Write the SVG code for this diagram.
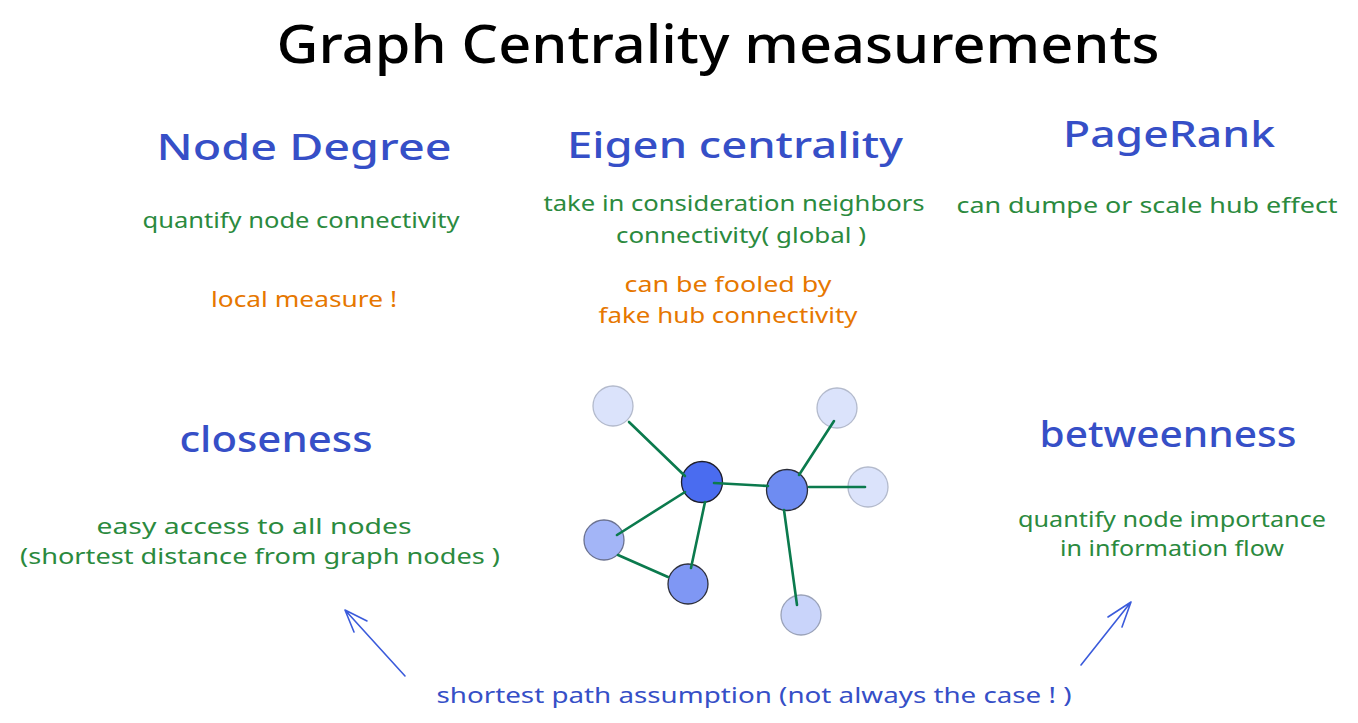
<svg xmlns="http://www.w3.org/2000/svg" width="1358" height="723" viewBox="0 0 1358 723">
<style>
text{font-family:"Noto Sans","Liberation Sans",sans-serif;text-anchor:middle}
.title{font-size:52px;fill:#000;font-weight:500}
.head{font-size:36px;fill:#364fc7;font-weight:500}
.g{font-size:21px;fill:#2b8a3e}
.o{font-size:21px;fill:#e67700}
.b{font-size:22px;fill:#364fc7}
.edge{stroke:#0b7a4d;stroke-width:2.6;fill:none;stroke-linecap:round}
.arrow{stroke:#3b5bdb;stroke-width:1.6;fill:none;stroke-linecap:round;stroke-linejoin:round}
.n{stroke-width:1.3}
.light{fill:#dbe3fb;stroke:#b3bacc}
</style>
<rect width="1358" height="723" fill="#fff"/>
<g id="title"><text class="title" x="718" y="63" textLength="883" lengthAdjust="spacingAndGlyphs">Graph Centrality measurements</text></g>
<g id="node-degree">
<text class="head" x="304" y="160" textLength="295" lengthAdjust="spacingAndGlyphs">Node Degree</text>
<text class="g" x="301" y="228" textLength="317" lengthAdjust="spacingAndGlyphs">quantify node connectivity</text>
<text class="o" x="304" y="307" textLength="186" lengthAdjust="spacingAndGlyphs">local measure !</text>
</g>
<g id="eigen">
<text class="head" x="735" y="158" textLength="336" lengthAdjust="spacingAndGlyphs">Eigen centrality</text>
<text class="g" x="734" y="211" textLength="381" lengthAdjust="spacingAndGlyphs">take in consideration neighbors</text>
<text class="g" x="741" y="243" textLength="250" lengthAdjust="spacingAndGlyphs">connectivity( global )</text>
<text class="o" x="728" y="292" textLength="207" lengthAdjust="spacingAndGlyphs">can be fooled by</text>
<text class="o" x="728" y="323" textLength="259" lengthAdjust="spacingAndGlyphs">fake hub connectivity</text>
</g>
<g id="pagerank">
<text class="head" x="1169" y="147" textLength="212" lengthAdjust="spacingAndGlyphs">PageRank</text>
<text class="g" x="1147" y="213" textLength="381" lengthAdjust="spacingAndGlyphs">can dumpe or scale hub effect</text>
</g>
<g id="closeness">
<text class="head" x="276" y="452" textLength="193" lengthAdjust="spacingAndGlyphs">closeness</text>
<text class="g" x="254" y="534" textLength="315" lengthAdjust="spacingAndGlyphs">easy access to all nodes</text>
<text class="g" x="260" y="564" textLength="480" lengthAdjust="spacingAndGlyphs">(shortest distance from graph nodes )</text>
</g>
<g id="betweenness">
<text class="head" x="1168" y="447" textLength="257" lengthAdjust="spacingAndGlyphs">betweenness</text>
<text class="g" x="1172" y="527" textLength="308" lengthAdjust="spacingAndGlyphs">quantify node importance</text>
<text class="g" x="1172" y="556" textLength="224" lengthAdjust="spacingAndGlyphs">in information flow</text>
</g>
<g id="shortest-path">
<text class="b" x="754" y="703" textLength="635" lengthAdjust="spacingAndGlyphs">shortest path assumption (not always the case ! )</text>
</g>
<g id="node-a"><circle class="n light" cx="613" cy="406" r="20"/></g>
<g id="node-d"><circle class="n light" cx="837" cy="408" r="20"/></g>
<g id="node-e"><circle class="n light" cx="868" cy="487" r="20"/></g>
<g id="node-h"><circle class="n" cx="801" cy="615" r="20" fill="#c9d4fa" stroke="#9aa2b8"/></g>
<g id="node-f"><circle class="n" cx="604" cy="540" r="20" fill="#a3b5f7" stroke="#6b7290"/></g>
<g id="node-g"><circle class="n" cx="688" cy="584" r="20" fill="#7f97f4" stroke="#2d2f3a"/></g>
<g id="node-b"><circle class="n" cx="702" cy="482" r="20.5" fill="#4a6cf0" stroke="#1e1e2a"/></g>
<g id="node-c"><circle class="n" cx="787" cy="490" r="20.5" fill="#6e8cf2" stroke="#2a2c38"/></g>
<g id="connectors">
<line class="edge" x1="629" y1="422" x2="685" y2="476"/>
<line class="edge" x1="714" y1="483" x2="768" y2="486"/>
<line class="edge" x1="685" y1="492" x2="617" y2="535"/>
<line class="edge" x1="705" y1="502" x2="691" y2="568"/>
<line class="edge" x1="618" y1="555" x2="668" y2="577"/>
<line class="edge" x1="834" y1="421" x2="799" y2="475"/>
<line class="edge" x1="809" y1="487" x2="865" y2="487"/>
<line class="edge" x1="784" y1="510" x2="797" y2="605"/>
<path class="arrow" d="M405 676 L345 610 M345 610 L367 621 M345 610 L354 632"/>
<path class="arrow" d="M1081 665 L1131 602 M1131 602 L1108 617 M1131 602 L1122 627"/>
</g>
</svg>
